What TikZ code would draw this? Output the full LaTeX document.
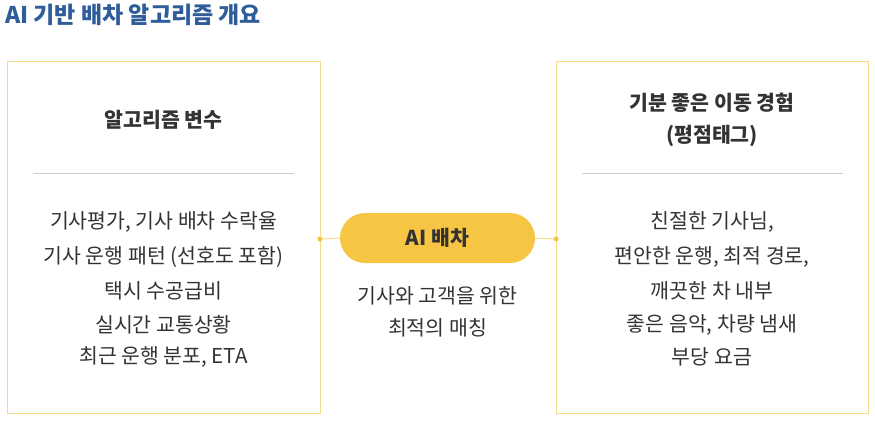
\documentclass[tikz,border=0pt]{standalone}
\usepackage{fontspec}
\setmainfont{Noto Sans CJK KR}
\definecolor{boxc}{HTML}{F5DC8C}
\definecolor{pill}{HTML}{F7C544}
\definecolor{titc}{HTML}{2F5D9A}
\definecolor{txt}{HTML}{333333}
\definecolor{sep}{HTML}{CCCCCC}
\tikzset{
 panel/.style={draw=boxc, line width=1pt},
 body/.style={text=txt, font=\fontsize{20.5}{24}\selectfont, align=center, inner sep=0},
 head/.style={text=txt, font=\fontsize{20.5}{24}\selectfont\bfseries, align=center, inner sep=0},
 conn/.style={draw=boxc, line width=1pt},
 dotc/.style={circle, fill=pill, inner sep=0, minimum size=5pt},
}
\begin{document}
\begin{tikzpicture}[x=1pt,y=-1pt]
\useasboundingbox (0,0) rectangle (875,421);
\node[anchor=west, text=titc, font=\fontsize{23}{26}\selectfont\bfseries, inner sep=0] (title) at (5,15) {AI 기반 배차 알고리즘 개요};
\draw[panel] (7,61) rectangle (320,413);
\draw[panel] (556,61) rectangle (868,413);
\node[head] (lh) at (163.5,120) {알고리즘 변수};
\draw[sep] (33,173) -- (294,173);
\node[body] (l1) at (163.5,222) {기사평가, 기사 배차 수락율};
\node[body] (l2) at (163.5,257) {기사 운행 패턴 (선호도 포함)};
\node[body] (l3) at (163.5,291) {택시 수공급비};
\node[body] (l4) at (163.5,325) {실시간 교통상황};
\node[body] (l5) at (163.5,357) {최근 운행 분포, ETA};
\node[head] (rh1) at (712,103) {기분 좋은 이동 경험};
\node[head] (rh2) at (712,136) {(평점태그)};
\draw[sep] (582,173) -- (843,173);
\node[body] (r1) at (712,222) {친절한 기사님,};
\node[body] (r2) at (712,257) {편안한 운행, 최적 경로,};
\node[body] (r3) at (712,291) {깨끗한 차 내부};
\node[body] (r4) at (712,325) {좋은 음악, 차량 냄새};
\node[body] (r5) at (712,357) {부당 요금};
\node[rounded corners=25pt, fill=pill, minimum width=195pt, minimum height=50pt, text=txt, font=\fontsize{20.5}{24}\selectfont\bfseries] (ai) at (437.5,238) {AI 배차};
\node[body] (c1) at (437.5,296) {기사와 고객을 위한};
\node[body] (c2) at (437.5,328) {최적의 매칭};
\coordinate (ld) at (320,239);
\coordinate (rd) at (556,239);
\draw[conn] (ld) -- (ai.west);
\draw[conn] (ai.east) -- (rd);
\node[dotc] at (ld) {};
\node[dotc] at (rd) {};
\end{tikzpicture}
\end{document}
